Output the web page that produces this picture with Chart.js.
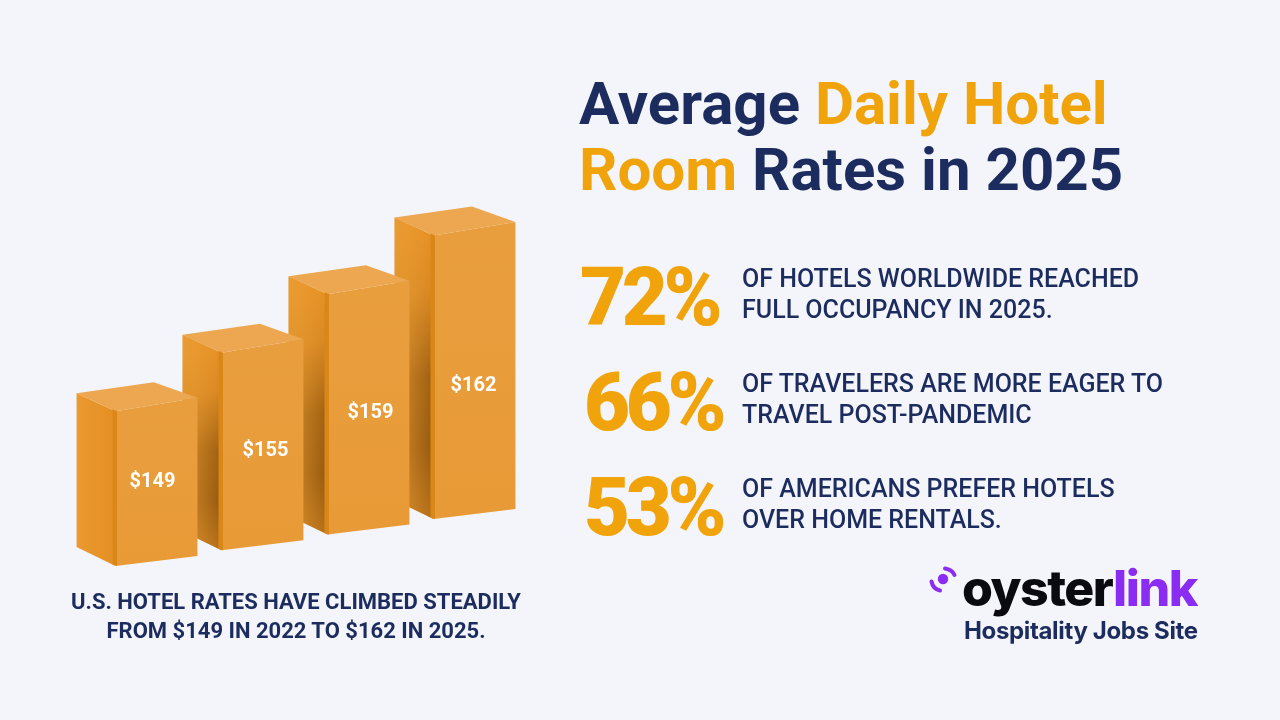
<!DOCTYPE html>
<html>
<head>
<meta charset="utf-8">
<script src="https://cdn.jsdelivr.net/npm/chart.js@4"></script>
<style>
  html, body { margin: 0; padding: 0; width: 1280px; height: 720px; overflow: hidden; background: #f4f5fa; font-family: Roboto, sans-serif; }
  #chart { position: absolute; left: 0; top: 0; }
  .abs { position: absolute; white-space: nowrap; }
  .title { left: 579px; font-size: 60px; font-weight: 700; color: #1c2c5e; line-height: 66px; }
  .title b { color: #f0a30a; font-weight: 700; }
  .pct { font-size: 82px; font-weight: 900; color: #f0a30a; line-height: 82px; letter-spacing: -4.5px; transform: scaleX(0.97); transform-origin: left center; }
  .stat { left: 742px; font-size: 25px; font-weight: 500; color: #1c2c5e; line-height: 31px; }
  .caption { left: 46px; width: 500px; text-align: center; font-size: 22px; font-weight: 700; color: #1c2c5e; line-height: 29px; }
  .brand { left: 962px; top: 558px; font-family: Inter, sans-serif; font-size: 50px; font-weight: 800; line-height: 60px; letter-spacing: -1.5px; color: #0a0a0f; }
  .brand span { color: #8a2cf2; }
  .tag { left: 964px; top: 617px; font-family: Inter, sans-serif; font-size: 24px; font-weight: 700; line-height: 28px; color: #1c2c5e; letter-spacing: -0.35px; }
</style>
</head>
<body>
<canvas id="chart" width="1280" height="720"></canvas>

<div class="abs title" style="top:71px">Average <b>Daily Hotel</b></div>
<div class="abs title" style="top:137px"><b>Room</b> Rates in 2025</div>
<div id="stats"></div>
<div class="abs caption" style="top:587px">U.S. HOTEL RATES HAVE CLIMBED STEADILY<br>FROM $149 IN 2022 TO $162 IN 2025.</div>

<svg class="abs" style="left:925px;top:563px" width="36" height="34" viewBox="0 0 36 34">
  <circle cx="18" cy="16" r="5.2" fill="#8a2cf2"/>
  <path d="M6.5 18.5 Q8 26 15 27.5" fill="none" stroke="#8a2cf2" stroke-width="4" stroke-linecap="round"/>
  <path d="M20 5.5 Q27 6.5 29.5 12" fill="none" stroke="#8a2cf2" stroke-width="4" stroke-linecap="round"/>
</svg>
<div class="abs brand">oyster<span>link</span></div>
<div class="abs tag">Hospitality Jobs Site</div>

<script>
const years = ['2022', '2023', '2024', '2025']
const rates = [149, 155, 159, 162]
const statPercents = ['72%', '66%', '53%']
const statLines = [
  ['OF HOTELS WORLDWIDE REACHED', 'FULL OCCUPANCY IN 2025.'],
  ['OF TRAVELERS ARE MORE EAGER TO', 'TRAVEL POST-PANDEMIC'],
  ['OF AMERICANS PREFER HOTELS', 'OVER HOME RENTALS.']
]

// the picture spaces the bars evenly whatever the dollar gap, so y is a category axis of the rates
const rateLabels = rates.map(r => '$' + r)
const yLabels = ['', '', '', ...rateLabels, '']

const statTops = [256, 361, 466]
const statLefts = [580, 584, 584]
const stats = document.getElementById('stats')
statPercents.forEach((p, i) => {
  stats.insertAdjacentHTML('beforeend',
    `<div class="abs pct" style="left:${statLefts[i]}px;top:${statTops[i]}px">${p}</div>` +
    `<div class="abs stat" style="top:${statTops[i] + 7}px">${statLines[i].join('<br>')}</div>`)
})

function poly (ctx, pts, fill) {
  ctx.beginPath()
  pts.forEach((p, i) => i ? ctx.lineTo(p[0], p[1]) : ctx.moveTo(p[0], p[1]))
  ctx.closePath()
  ctx.fillStyle = fill
  ctx.fill()
}

const floorDrop = 21
const floorRise = 15.7
const labelNudge = [[-4, -7], [3, -1], [2, -2], [-1, 9]]

const boxes = {
  id: 'boxes',
  afterDatasetsDraw (chart) {
    const ctx = chart.ctx
    const bars = chart.getDatasetMeta(0).data
    // back to front, each box hides part of the one behind it
    for (let i = bars.length - 1; i >= 0; i--) {
      const el = bars[i]
      const L = el.x - el.width / 2
      const R = el.x + el.width / 2
      const fx = L + el.width * 0.322
      const bx = L + el.width * 0.64
      const top = el.y
      const bot = el.base - floorDrop - i * floorRise
      const sideFace = [[L, top - 18], [fx, top], [fx, bot], [L, bot - 19]]

      const side = ctx.createLinearGradient(L, 0, fx, 0)
      side.addColorStop(0, '#e99a30')
      side.addColorStop(1, '#e58f24')
      poly(ctx, sideFace, side)

      if (i > 0) {
        // shadow the nearer box throws on this side, strongest by the corner
        const shade = ctx.createLinearGradient(0, top, 0, bot)
        shade.addColorStop(0, 'rgba(100,55,0,0)')
        shade.addColorStop(0.2, 'rgba(100,55,0,0.1)')
        shade.addColorStop(0.5, 'rgba(100,55,0,0.55)')
        shade.addColorStop(0.75, 'rgba(100,55,0,0.62)')
        shade.addColorStop(1, 'rgba(100,55,0,0.38)')
        poly(ctx, sideFace, shade)
        const fade = ctx.createLinearGradient(L + el.width * 0.1, 0, fx, 0)
        fade.addColorStop(0, 'rgba(233,154,48,0.5)')
        fade.addColorStop(1, 'rgba(233,154,48,0)')
        poly(ctx, sideFace, fade)
      }

      const front = ctx.createLinearGradient(0, top, 0, bot)
      front.addColorStop(0, '#e99e3e')
      front.addColorStop(1, '#e89a36')
      poly(ctx, [[fx, top], [R, top - 13.5], [R, bot - 10], [fx, bot]], front)

      poly(ctx, [[L, top - 18], [bx, top - 29], [R, top - 13.5], [fx, top]], '#eca750')
      poly(ctx, [[fx - 3, top - 2], [fx + 1.5, top], [fx + 1.5, bot], [fx - 3, bot - 1.5]], '#d98718')

      ctx.fillStyle = '#fff'
      ctx.font = '700 20px Roboto'
      ctx.textAlign = 'center'
      ctx.textBaseline = 'middle'
      ctx.fillText(rateLabels[i], (fx + R) / 2 + labelNudge[i][0], (top - 13.5 + bot) / 2 + labelNudge[i][1] + 7)
    }
  }
}

Chart.defaults.font.family = 'Roboto'

new Chart(document.getElementById('chart'), {
  type: 'bar',
  data: {
    labels: years,
    datasets: [{
      label: 'Average daily rate',
      data: rateLabels,
      backgroundColor: 'rgba(0,0,0,0)',
      barPercentage: 1.14,
      categoryPercentage: 1
    }]
  },
  options: {
    responsive: false,
    animation: false,
    layout: { padding: { left: 84, right: 772, top: 177, bottom: 133 } },
    plugins: { legend: { display: false }, tooltip: { enabled: false } },
    scales: {
      x: { display: false },
      y: { type: 'category', labels: yLabels, reverse: true, display: false }
    }
  },
  plugins: [boxes]
})
</script>
</body>
</html>
